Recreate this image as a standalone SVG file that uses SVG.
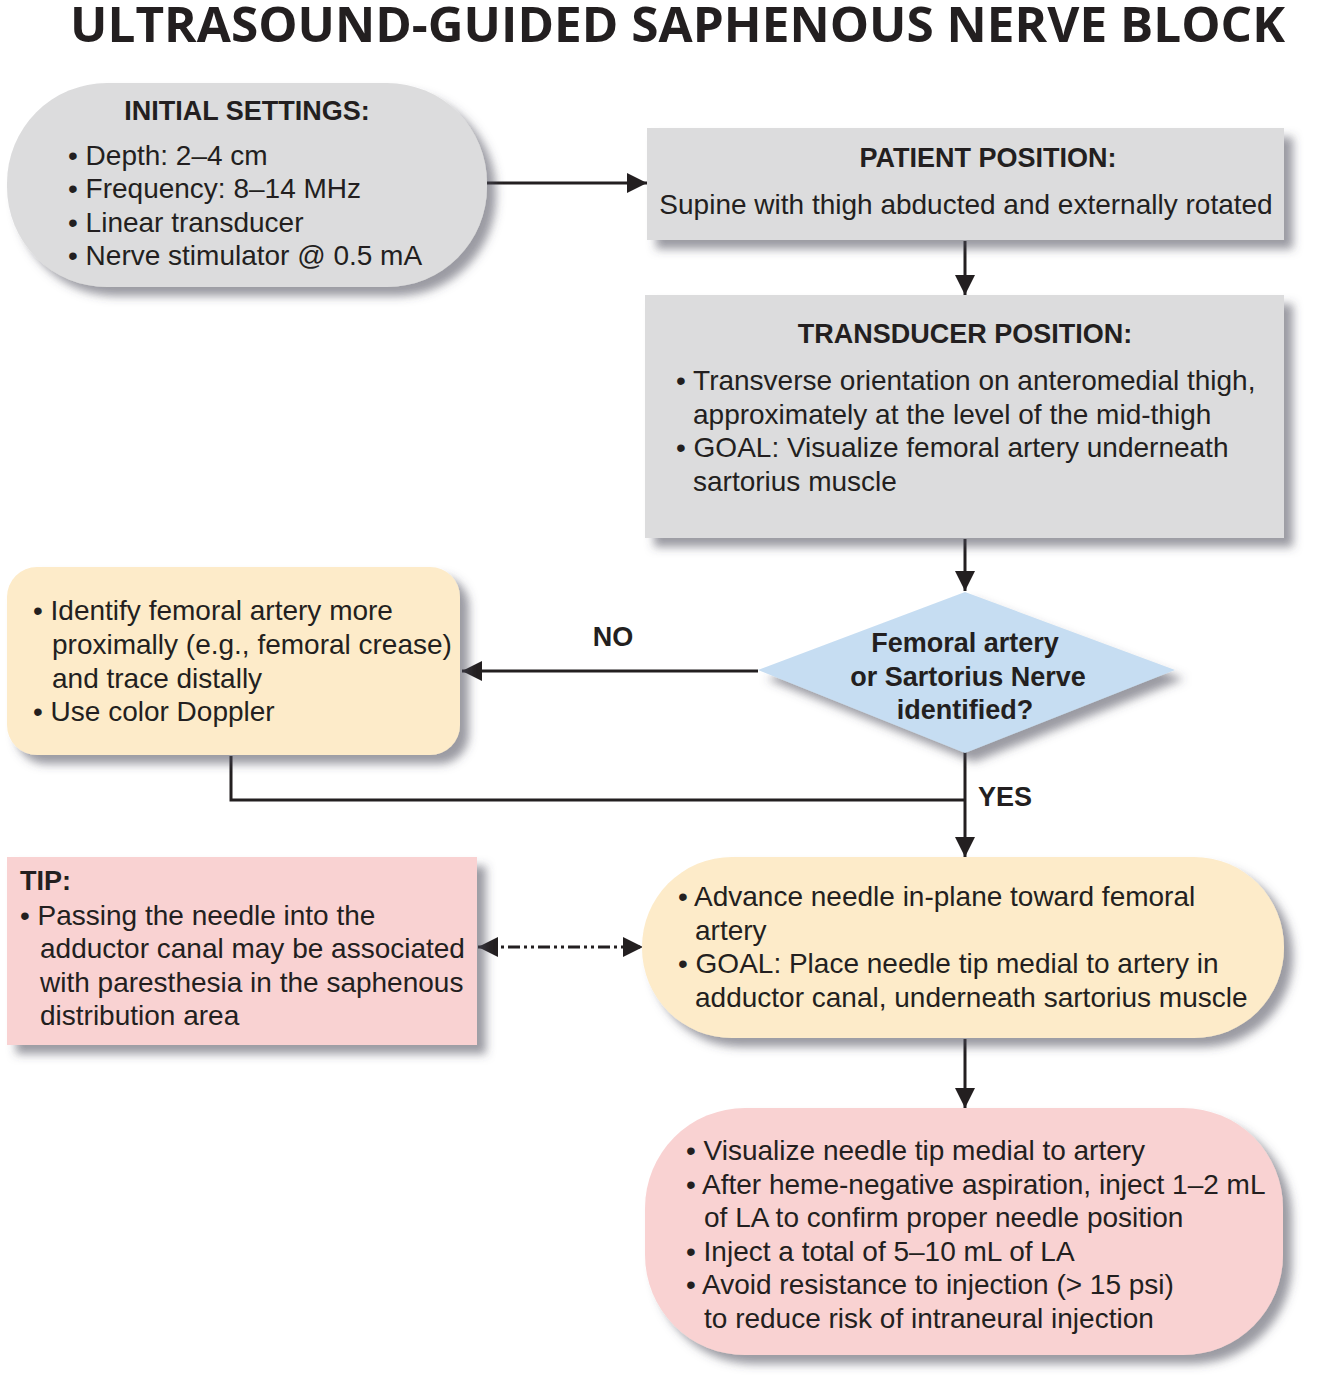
<svg xmlns="http://www.w3.org/2000/svg" width="1319" height="1388" viewBox="0 0 1319 1388">
<defs>
<filter id="sh" x="-10%" y="-10%" width="125%" height="130%">
<feDropShadow dx="9" dy="9" stdDeviation="5" flood-color="#4a4a55" flood-opacity="0.55"/>
</filter>
<marker id="ah" viewBox="0 0 10 10" refX="10" refY="5" markerWidth="20" markerHeight="20" markerUnits="userSpaceOnUse" orient="auto-start-reverse">
<path d="M0,0 L10,5 L0,10 Z" fill="#231f20"/>
</marker>
</defs>
<style>
.t{font-family:"Liberation Sans",Arial,sans-serif;font-size:28px;fill:#231f20}
.b{font-family:"Liberation Sans",Arial,sans-serif;font-size:27px;font-weight:bold;fill:#231f20}
.ttl{font-family:"Open Sans","Liberation Sans",sans-serif;font-size:49px;font-weight:bold;fill:#231f20}
.ln{fill:none;stroke:#231f20;stroke-width:3}
.gray{fill:#dcdcdd}
.yel{fill:#fdebc9}
.pink{fill:#f9d2d2}
.blue{fill:#c6ddf2}
</style>
<rect width="1319" height="1388" fill="#ffffff"/>
<text class="ttl" x="70" y="42" textLength="1215" lengthAdjust="spacingAndGlyphs">ULTRASOUND-GUIDED SAPHENOUS NERVE BLOCK</text>

<g id="connectors">
<line class="ln" x1="487" y1="183" x2="647" y2="183" marker-end="url(#ah)"/>
<line class="ln" x1="965" y1="241" x2="965" y2="295" marker-end="url(#ah)"/>
<line class="ln" x1="965" y1="539" x2="965" y2="591" marker-end="url(#ah)"/>
<line class="ln" x1="758" y1="671" x2="462" y2="671" marker-end="url(#ah)"/>
<polyline class="ln" points="231,756 231,800 965,800"/>
<line class="ln" x1="965" y1="752" x2="965" y2="857" marker-end="url(#ah)"/>
<line class="ln" x1="965" y1="1039" x2="965" y2="1108" marker-end="url(#ah)"/>
<line class="ln" x1="478" y1="947" x2="643" y2="947" stroke-dasharray="12,4,3,4,3,4" marker-start="url(#ah)" marker-end="url(#ah)"/>
<text class="b" x="613" y="646" text-anchor="middle">NO</text>
<text class="b" x="978" y="806">YES</text>
</g>

<g id="initial-settings">
<rect class="gray" x="7" y="83" width="480" height="204" rx="100" ry="100" filter="url(#sh)"/>
<text class="b" x="247" y="120" text-anchor="middle">INITIAL SETTINGS:</text>
<text class="t" x="68" y="165">• Depth: 2–4 cm</text>
<text class="t" x="68" y="198">• Frequency: 8–14 MHz</text>
<text class="t" x="68" y="232">• Linear transducer</text>
<text class="t" x="68" y="265">• Nerve stimulator @ 0.5 mA</text>
</g>

<g id="patient-position">
<rect class="gray" x="647" y="128" width="637" height="112" filter="url(#sh)"/>
<text class="b" x="988" y="167" text-anchor="middle">PATIENT POSITION:</text>
<text class="t" x="966" y="214" text-anchor="middle">Supine with thigh abducted and externally rotated</text>
</g>

<g id="transducer-position">
<rect class="gray" x="645" y="295" width="639" height="243" filter="url(#sh)"/>
<text class="b" x="965" y="343" text-anchor="middle">TRANSDUCER POSITION:</text>
<text class="t" x="676" y="390">• Transverse orientation on anteromedial thigh,</text>
<text class="t" x="693" y="424">approximately at the level of the mid-thigh</text>
<text class="t" x="676" y="457">• GOAL: Visualize femoral artery underneath</text>
<text class="t" x="693" y="491">sartorius muscle</text>
</g>

<g id="decision">
<polygon class="blue" points="965,592 1175,670 965,753 758,670" filter="url(#sh)"/>
<text class="b" x="965" y="652" text-anchor="middle">Femoral artery</text>
<text class="b" x="968" y="686" text-anchor="middle">or Sartorius Nerve</text>
<text class="b" x="965" y="719" text-anchor="middle">identified?</text>
</g>

<g id="identify-proximally">
<rect class="yel" x="7" y="567" width="453" height="188" rx="30" ry="30" filter="url(#sh)"/>
<text class="t" x="33" y="620">• Identify femoral artery more</text>
<text class="t" x="52" y="654">proximally (e.g., femoral crease)</text>
<text class="t" x="52" y="688">and trace distally</text>
<text class="t" x="33" y="721">• Use color Doppler</text>
</g>

<g id="tip">
<rect class="pink" x="7" y="857" width="470" height="188" filter="url(#sh)"/>
<text class="b" x="20" y="890">TIP:</text>
<text class="t" x="20" y="925">• Passing the needle into the</text>
<text class="t" x="40" y="958">adductor canal may be associated</text>
<text class="t" x="40" y="992">with paresthesia in the saphenous</text>
<text class="t" x="40" y="1025">distribution area</text>
</g>

<g id="advance-needle">
<rect class="yel" x="642" y="857" width="642" height="181" rx="90" ry="90" filter="url(#sh)"/>
<text class="t" x="678" y="906">• Advance needle in-plane toward femoral</text>
<text class="t" x="695" y="940">artery</text>
<text class="t" x="678" y="973">• GOAL: Place needle tip medial to artery in</text>
<text class="t" x="695" y="1007">adductor canal, underneath sartorius muscle</text>
</g>

<g id="inject">
<rect class="pink" x="645" y="1108" width="638" height="247" rx="100" ry="100" filter="url(#sh)"/>
<text class="t" x="686" y="1160">• Visualize needle tip medial to artery</text>
<text class="t" x="686" y="1194">• After heme-negative aspiration, inject 1–2 mL</text>
<text class="t" x="704" y="1227">of LA to confirm proper needle position</text>
<text class="t" x="686" y="1261">• Inject a total of 5–10 mL of LA</text>
<text class="t" x="686" y="1294">• Avoid resistance to injection (&gt; 15 psi)</text>
<text class="t" x="704" y="1328">to reduce risk of intraneural injection</text>
</g>
</svg>
